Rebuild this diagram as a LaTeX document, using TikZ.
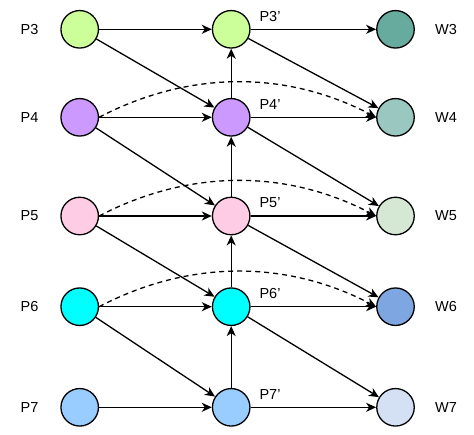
\documentclass[tikz,border=0pt]{standalone}
\usepackage{fontspec}
\setmainfont{Liberation Sans}
\usetikzlibrary{arrows.meta}
\definecolor{cP3}{HTML}{CCFF99}
\definecolor{cP4}{HTML}{CC99FF}
\definecolor{cP5}{HTML}{FFCCE6}
\definecolor{cP6}{HTML}{00FFFF}
\definecolor{cP7}{HTML}{99CCFF}
\definecolor{cW3}{HTML}{67AB9F}
\definecolor{cW4}{HTML}{9AC7BF}
\definecolor{cW5}{HTML}{D5E8D4}
\definecolor{cW6}{HTML}{7EA6E0}
\definecolor{cW7}{HTML}{D4E1F5}
\begin{document}
\begin{tikzpicture}[x=1pt,y=-1pt,
  dot/.style={circle,draw=black,line width=1.3pt,minimum size=37.5pt,inner sep=0pt},
  lbl/.style={font=\fontsize{14.5}{16}\selectfont,inner sep=0pt},
  arr/.style={line width=1.3pt,-{Stealth[length=10pt,width=9pt,inset=3pt]}},
  darr/.style={arr,dashed,dash pattern=on 5pt off 4pt}]
\useasboundingbox (0,0) rectangle (474,434);
\foreach \n/\y in {3/29.3,4/117.3,5/216,6/306.7,7/407.3}{
  \node[dot,fill=cP\n] (P\n) at (79.7,\y) {};
  \node[dot,fill=cP\n] (Q\n) at (231.2,\y) {};
  \node[dot,fill=cW\n] (W\n) at (395.5,\y) {};
  \node[lbl] (LP\n) at (29.5,\y) {P\n};
  \node[lbl] (LW\n) at (446,\y) {W\n};
  \node[lbl] (LQ\n) at (270,\y-13) {P\n'};
}
\foreach \n in {3,...,7}{
  \draw[arr] (P\n) -- (Q\n);
  \draw[arr] (Q\n) -- (W\n);
}
\foreach \a/\b in {3/4,4/5,5/6,6/7}{
  \draw[arr] (P\a) -- (Q\b);
  \draw[arr] (Q\a) -- (W\b);
  \draw[arr] (Q\b) -- (Q\a);
}
\foreach \n in {4,5,6}{
  \draw[darr] (P\n.east) .. controls +(90,-47) and +(-90,-47) .. (W\n.west);
}
\end{tikzpicture}
\end{document}
